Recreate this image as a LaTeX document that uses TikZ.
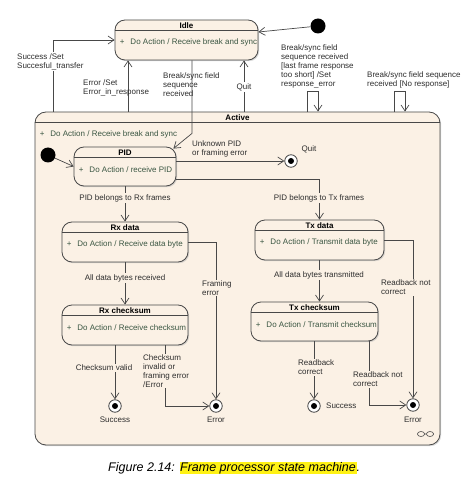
\documentclass[tikz,border=0pt]{standalone}
\usepackage{fontspec}
\setmainfont{Liberation Sans}
\usetikzlibrary{arrows.meta,shadows}

\definecolor{statefill}{RGB}{251,241,229}
\definecolor{linegray}{RGB}{72,72,72}
\definecolor{bodytext}{RGB}{58,86,66}
\definecolor{labeltext}{RGB}{45,45,45}
\definecolor{hilite}{RGB}{255,242,20}

% name, centre, width, height, corner, title, action
\newcommand{\umlstate}[7]{%
\node[statebox, rounded corners=#5, minimum width=#3, minimum height=#4] (#1) at (#2) {};
\node[stitle] (#1-t) at ([yshift=-6pt]#1.north) {#6};
\draw[linegray, line width=0.6pt] ([yshift=-11pt]#1.north west) -- ([yshift=-11pt]#1.north east);
\node[sbody] (#1-b) at ([xshift=5pt,yshift=-23pt]#1.north west) {+\hspace{6pt}#7};
}

\tikzset{
  statebox/.style={draw=linegray, fill=statefill, line width=0.8pt, inner sep=0pt,
    drop shadow={shadow xshift=1.2pt, shadow yshift=-1.2pt, fill=black!30}},
  stitle/.style={font=\fontsize{8}{9}\selectfont\bfseries, inner sep=0pt},
  sbody/.style={font=\fontsize{8}{9}\selectfont, text=bodytext, anchor=west, inner sep=0pt},
  lbl/.style={font=\fontsize{8}{9}\selectfont, align=left, text=labeltext, inner sep=1pt},
  trans/.style={draw=linegray, line width=0.7pt, -{Straight Barb[length=6pt,width=8pt]}},
  initdot/.style={circle, fill=black, minimum size=15pt, inner sep=0pt},
  finalst/.style={circle, draw=linegray, line width=0.8pt, fill=white, minimum size=12.5pt, inner sep=0pt,
    path picture={\fill[black] (path picture bounding box.center) circle (3pt);}},
}

\begin{document}
\begin{tikzpicture}[x=1pt,y=-1pt]
\fill[white] (0,0) rectangle (474,486);
\useasboundingbox (0,0) rectangle (474,486);

% states
\umlstate{idle}{186.5,40}{143pt}{40pt}{10pt}{Idle}{Do Action / Receive break and sync}
\umlstate{active}{237.5,278.5}{405pt}{333pt}{11pt}{Active}{Do Action / Receive break and sync}
\umlstate{pid}{125,166.5}{102pt}{39pt}{10pt}{PID}{Do Action / receive PID}
\umlstate{rxdata}{125,242}{126pt}{40pt}{10pt}{Rx data}{Do Action / Receive data byte}
\umlstate{rxcheck}{125,325}{126pt}{40pt}{10pt}{Rx checksum}{Do Action / Receive checksum}
\umlstate{txdata}{319.5,240}{129pt}{40pt}{10pt}{Tx data}{Do Action / Transmit data byte}
\umlstate{txcheck}{314.5,321.5}{127pt}{39pt}{10pt}{Tx checksum}{Do Action / Transmit checksum}

% pseudo states
\node[initdot] (init0) at (318,26) {};
\node[initdot] (init1) at (48,155) {};
\node[finalst] (fquit) at (291,161) {};
\node[finalst] (fsucc1) at (115,406) {};
\node[finalst] (ferr1) at (216,406) {};
\node[finalst] (fsucc2) at (314,406) {};
\node[finalst] (ferr2) at (413,405) {};
\node[lbl] (fquit-l) at (309,149) {Quit};
\node[lbl] (fsucc1-l) at (115,420) {Success};
\node[lbl] (ferr1-l) at (216,420) {Error};
\node[lbl, anchor=west] (fsucc2-l) at (325,406) {Success};
\node[lbl] (ferr2-l) at (413,420) {Error};

% transitions outside Active
\draw[trans] (init0) -- ([yshift=8pt]idle.east);
\draw[trans] ([xshift=19pt]active.north west) |- (idle.west);
\node[lbl, anchor=west, fill=white] (t1) at (16,61.5) {Success /Set\\Succesful\_transfer};
\draw[trans] (active.north -| 128,0) -- (idle.south -| 128,0);
\node[lbl, anchor=west] (t2) at (82,88) {Error /Set\\Error\_in\_response};
\draw[trans] (idle.south -| 192,0) -- ++(0,73) -- ([shift={(-3pt,-2pt)}]pid.north east);
\node[lbl, anchor=west] (t3) at (162,85) {Break/sync field\\sequence\\received};
\draw[trans] (active.north -| 244,0) -- (idle.south -| 244,0);
\node[lbl, fill=white] (t4) at (244,87) {Quit};
\draw[trans] (active.north -| 307,0) -- ++(0,-20) -| (active.north -| 318,0);
\node[lbl, anchor=west] (t5) at (280,66) {Break/sync field\\sequence received\\{[}last frame response\\too short{]} /Set\\response\_error};
\draw[trans] (active.north -| 394,0) -- ++(0,-20) -| (active.north -| 405,0);
\node[lbl, anchor=west] (t6) at (366,79.5) {Break/sync field sequence\\received {[}No response{]}};

% transitions inside Active
\draw[trans] (init1) -- (pid.west);
\draw[trans] (pid.east |- fquit) -- (fquit);
\node[lbl, anchor=west] (t7) at (191,148.5) {Unknown PID\\or framing error};
\draw[trans] ([yshift=-12.5pt]pid.east) -| (txdata.north);
\node[lbl, fill=statefill] (t8) at (319,198) {PID belongs to Tx frames};
\draw[trans] (pid.south) -- (rxdata.north);
\node[lbl, fill=statefill] (t9) at (125,198) {PID belongs to Rx frames};
\draw[trans] (rxdata.east) -| (ferr1);
\node[lbl, anchor=west, fill=statefill] (t10) at (201,288) {Framing\\error};
\draw[trans] (rxdata.south) -- (rxcheck.north);
\node[lbl, fill=statefill] (t11) at (125,278) {All data bytes received};
\draw[trans] (rxcheck.south -| fsucc1) -- (fsucc1);
\node[lbl, fill=statefill] (t12) at (104,368) {Checksum valid};
\draw[trans] (rxcheck.south -| 165,0) |- (ferr1);
\node[lbl, anchor=west, fill=statefill] (t13) at (142,371) {Checksum\\invalid or\\framing error\\/Error};
\draw[trans] (txdata.south) -- (txcheck.north -| txdata.south);
\node[lbl, fill=statefill] (t14) at (319,275) {All data bytes transmitted};
\draw[trans] (txdata.east) -| (ferr2);
\node[lbl, anchor=west, fill=statefill] (t15) at (380,287.5) {Readback not\\correct};
\draw[trans] (txcheck.south -| fsucc2) -- (fsucc2);
\node[lbl, anchor=west, fill=statefill] (t16) at (297,367.5) {Readback\\correct};
\draw[trans] (txcheck.south -| 369,0) |- (ferr2);
\node[lbl, anchor=west, fill=statefill] (t17) at (352,379.5) {Readback not\\correct};

% composite icon
\draw[linegray, line width=0.6pt] (421,434) ellipse (3.6 and 2.5) (430,434) ellipse (3.6 and 2.5) (424.6,434) -- (426.4,434);

% caption
\setlength{\fboxsep}{0.6pt}
\node[font=\fontsize{12.5}{14}\selectfont\itshape, anchor=west, inner sep=0pt] (caption) at (108,468)
  {Figure 2.14: \colorbox{hilite}{Frame processor state machine}.};
\end{tikzpicture}
\end{document}
